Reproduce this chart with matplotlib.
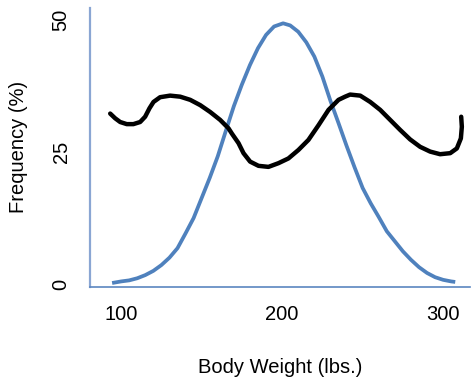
import matplotlib
matplotlib.use("Agg")
import matplotlib.pyplot as plt

plt.rcParams['font.family'] = ['Liberation Sans', 'DejaVu Sans']

# blue bell curve
blue_x = [94.4, 100, 105, 110, 115, 120, 125, 130, 135, 140, 145, 150, 155,
          160, 165, 170, 175, 180, 185, 190, 195, 200.6, 205, 210, 215, 220,
          225, 230, 235, 240, 245, 250, 255, 260, 265, 270, 275, 280, 285,
          290, 295, 300, 305, 307.5]
blue_y = [0.2, 0.5, 0.7, 1.1, 1.7, 2.5, 3.6, 5.0, 6.8, 9.6, 12.5, 16.3, 20.1,
          24.2, 29.0, 33.7, 37.8, 41.5, 44.7, 47.2, 48.8, 49.4, 49.0, 47.8,
          45.8, 43.1, 39.3, 34.7, 30.5, 26.2, 22.1, 18.2, 15.3, 12.7, 10.0,
          8.1, 6.2, 4.6, 3.2, 2.1, 1.3, 0.8, 0.5, 0.4]

# black wavy line
black_x = [93.2, 96.3, 99.4, 103.5, 107.6, 111.8, 114.9, 117.6, 120.1, 124.2,
           130.4, 136.7, 142.9, 149.1, 155.3, 161.5, 166.7, 168.8, 172.9, 176.0,
           180.1, 185.3, 191.5, 197.7, 203.9, 210.1, 216.3, 222.6, 228.8, 235.0,
           239.1, 242.2, 248.5, 254.7, 260.9, 267.1, 273.3, 279.5, 285.7, 291.9,
           298.1, 304.4, 308.5, 311.0, 311.6, 311.2]
black_y = [32.3, 31.4, 30.7, 30.3, 30.3, 30.7, 31.7, 33.3, 34.5, 35.4,
           35.7, 35.5, 34.9, 33.9, 32.6, 31.1, 29.5, 28.5, 26.7, 24.8,
           23.2, 22.4, 22.2, 22.9, 23.8, 25.4, 27.3, 30.1, 33.0, 34.9,
           35.5, 35.9, 35.7, 34.5, 33.0, 31.1, 29.2, 27.4, 26.0, 25.1,
           24.6, 24.8, 25.7, 27.6, 29.8, 31.7]

x_ticks = [100, 200, 300]
y_ticks = [0, 25, 50]

fig = plt.figure(figsize=(4.74, 3.81), dpi=100)
ax = fig.add_axes([0.19, 0.2475, 0.802, 0.7315])

ax.plot(blue_x, blue_y, color='#4f81bd', lw=2.7, solid_capstyle='butt',
        solid_joinstyle='round')
ax.plot(black_x, black_y, color='black', lw=3.2, solid_capstyle='round',
        solid_joinstyle='round')

ax.set_xlim(80.7, 316.8)
ax.set_ylim(-0.5, 52.3)
ax.set_xticks(x_ticks)
ax.set_yticks(y_ticks)
ax.tick_params(axis='x', length=0, pad=13, labelsize=14.5)
ax.tick_params(axis='y', length=0, pad=14, labelsize=14.5)
for lab in ax.get_yticklabels():
    lab.set_rotation(90)
    lab.set_va('center')

for s in ['top', 'right']:
    ax.spines[s].set_visible(False)
ax.spines['left'].set_color('#8aa6d3')
ax.spines['left'].set_linewidth(1.6)
ax.spines['bottom'].set_color('#5b86c0')
ax.spines['bottom'].set_linewidth(1.2)

ax.set_xlabel('Body Weight (lbs.)', fontsize=14.5, labelpad=25)
ax.set_ylabel('Frequency (%)', fontsize=14.5, labelpad=17)

fig.savefig('out.png', dpi=100)
